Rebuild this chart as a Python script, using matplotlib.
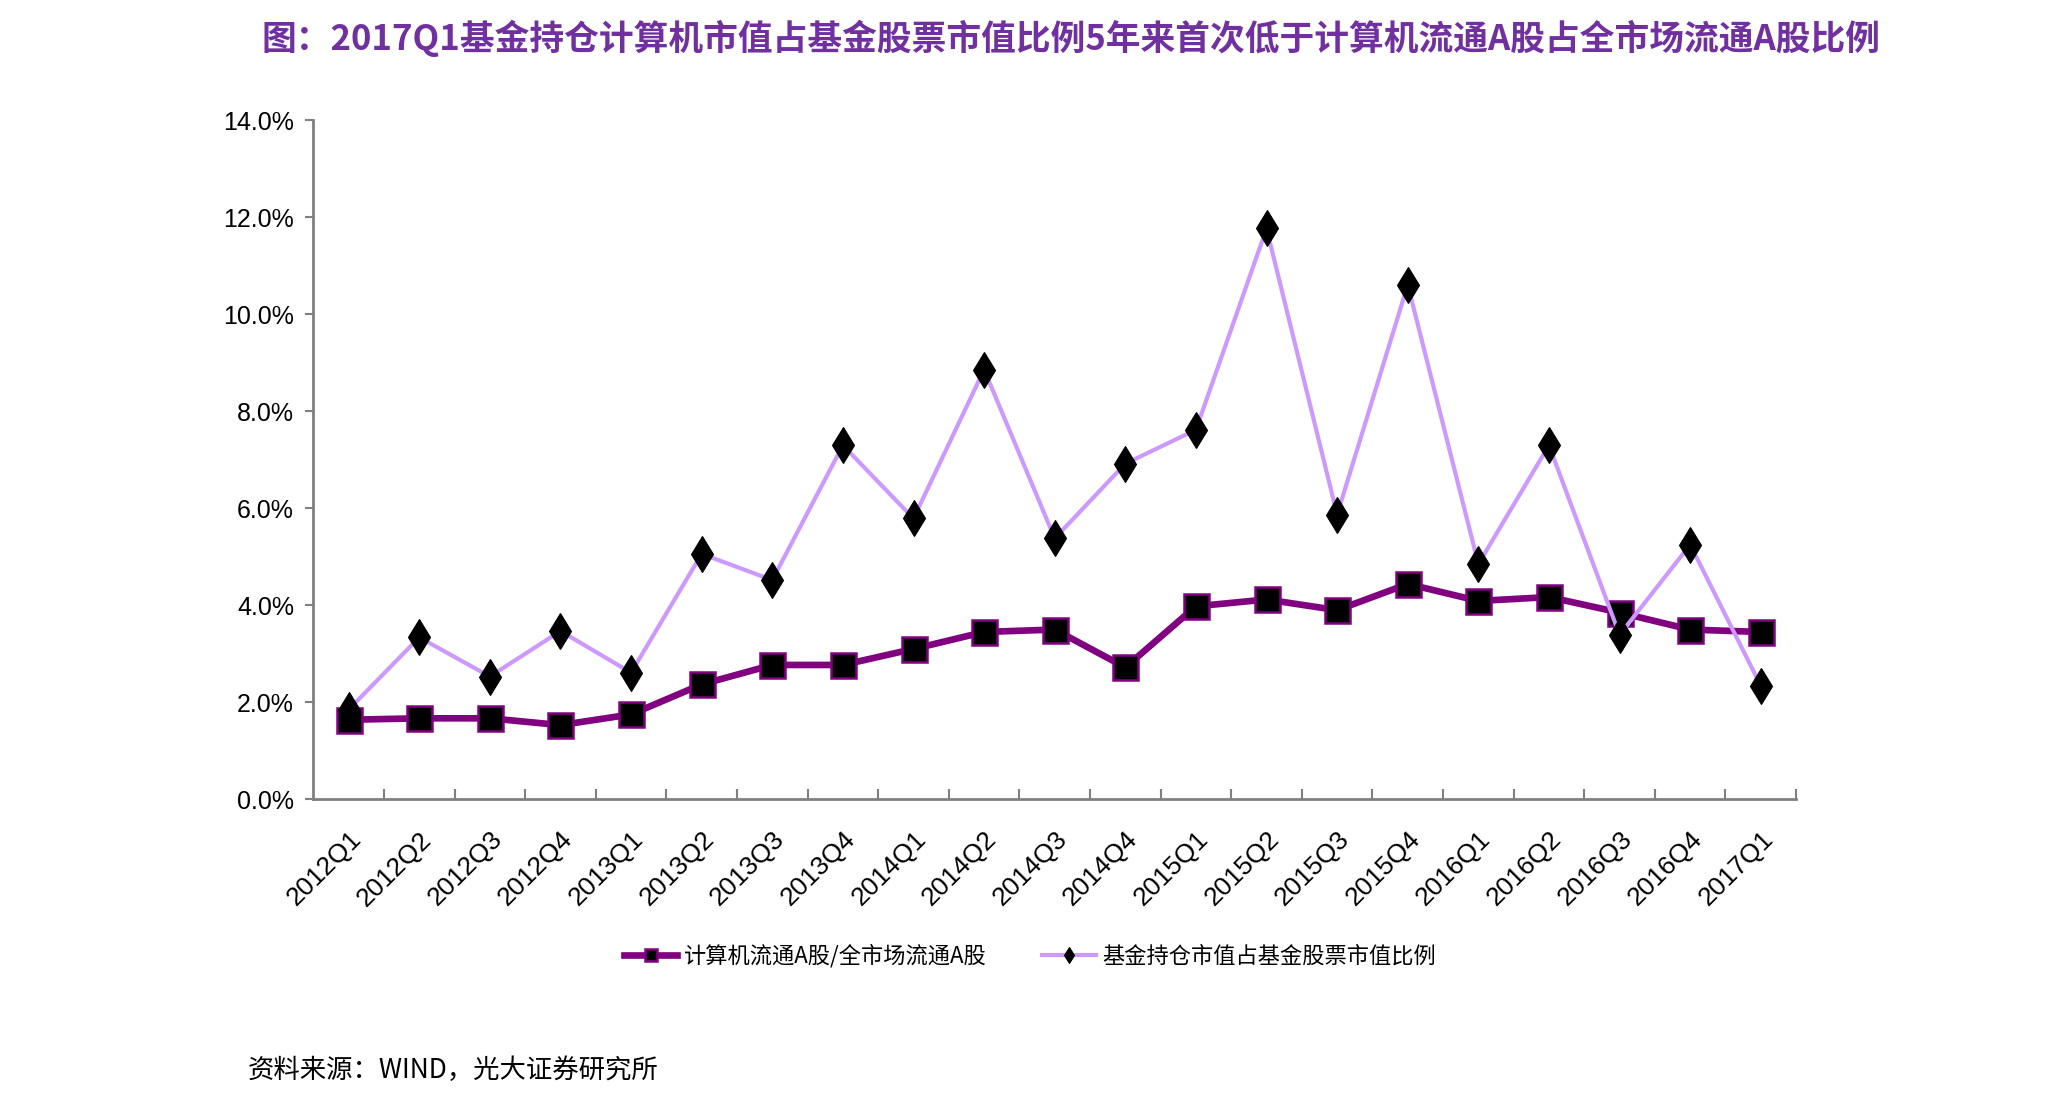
import matplotlib
matplotlib.use("Agg")
import matplotlib.pyplot as plt
from matplotlib.ticker import FixedLocator, FuncFormatter
from matplotlib import font_manager

plt.rcParams['font.family'] = ['Noto Sans CJK SC', 'DejaVu Sans']

quarters = ["2012Q1", "2012Q2", "2012Q3", "2012Q4", "2013Q1", "2013Q2", "2013Q3",
            "2013Q4", "2014Q1", "2014Q2", "2014Q3", "2014Q4", "2015Q1", "2015Q2",
            "2015Q3", "2015Q4", "2016Q1", "2016Q2", "2016Q3", "2016Q4", "2017Q1"]
computer_share = [1.64, 1.67, 1.67, 1.53, 1.75, 2.37, 2.77, 2.77, 3.10, 3.45, 3.50,
                  2.72, 3.98, 4.12, 3.90, 4.44, 4.09, 4.17, 3.85, 3.50, 3.45]
fund_share = [1.85, 3.34, 2.53, 3.47, 2.61, 5.06, 4.52, 7.30, 5.79, 8.86, 5.38,
              6.92, 7.62, 11.77, 5.87, 10.61, 4.85, 7.30, 3.39, 5.25, 2.34]
series_names = ["计算机流通A股/全市场流通A股", "基金持仓市值占基金股票市值比例"]
y_ticks = [0, 2, 4, 6, 8, 10, 12, 14]
title = "图：2017Q1基金持仓计算机市值占基金股票市值比例5年来首次低于计算机流通A股占全市场流通A股比例"
source = "资料来源：WIND，光大证券研究所"

names = {f.name for f in font_manager.fontManager.ttflist}
narrow = "Liberation Sans Narrow" if "Liberation Sans Narrow" in names else "Liberation Sans"

fig = plt.figure(figsize=(20.48, 11.04), dpi=100)
ax = fig.add_axes([0.153, 0.276, 0.724, 0.615])

x = list(range(len(quarters)))
ax.plot(x, computer_share, color="#800080", lw=4.8, marker="s", markersize=18,
        markerfacecolor="black", markeredgecolor="#800080", markeredgewidth=1.8,
        label=series_names[0], zorder=3)
ax.plot(x, fund_share, color="#CC99FF", lw=3.0, marker="d", markersize=18,
        markerfacecolor="black", markeredgecolor="black", markeredgewidth=0.8,
        label=series_names[1], zorder=4)

ax.set_xlim(-0.5, len(quarters) - 0.5)
ax.set_ylim(0, 14)
ax.yaxis.set_major_locator(FixedLocator(y_ticks))
ax.yaxis.set_major_formatter(FuncFormatter(lambda v, p: f"{v:.1f}%"))

ax.set_xticks(x)
ax.set_xticklabels(quarters, rotation=45, ha="right", va="top", rotation_mode="anchor",
                   fontsize=19, family=narrow)
ax.set_xticks([i + 0.5 for i in range(len(quarters))], minor=True)
ax.tick_params(axis="x", which="major", length=0, pad=20)
ax.tick_params(axis="x", which="minor", direction="in", length=7, color="#808080", width=1.5)
ax.tick_params(axis="y", direction="out", length=6, color="#808080", width=1.5, pad=8)
for lab in ax.get_yticklabels():
    lab.set_fontsize(18)
    lab.set_family(narrow)

for s in ["top", "right"]:
    ax.spines[s].set_visible(False)
for s in ["left", "bottom"]:
    ax.spines[s].set_color("#808080")
    ax.spines[s].set_linewidth(2)

fig.text(0.523, 0.965, title, ha="center", va="center", fontsize=25,
         color="#7030A0", fontweight="bold")

leg = fig.legend(loc="center", bbox_to_anchor=(0.503, 0.134), ncol=2, frameon=False,
                 fontsize=16, markerscale=0.45, handlelength=2.4, columnspacing=2.5,
                 handletextpad=0.3)

fig.text(0.121, 0.030, source, ha="left", va="center", fontsize=19, color="black")

fig.savefig("out.png", dpi=100, facecolor="white")
